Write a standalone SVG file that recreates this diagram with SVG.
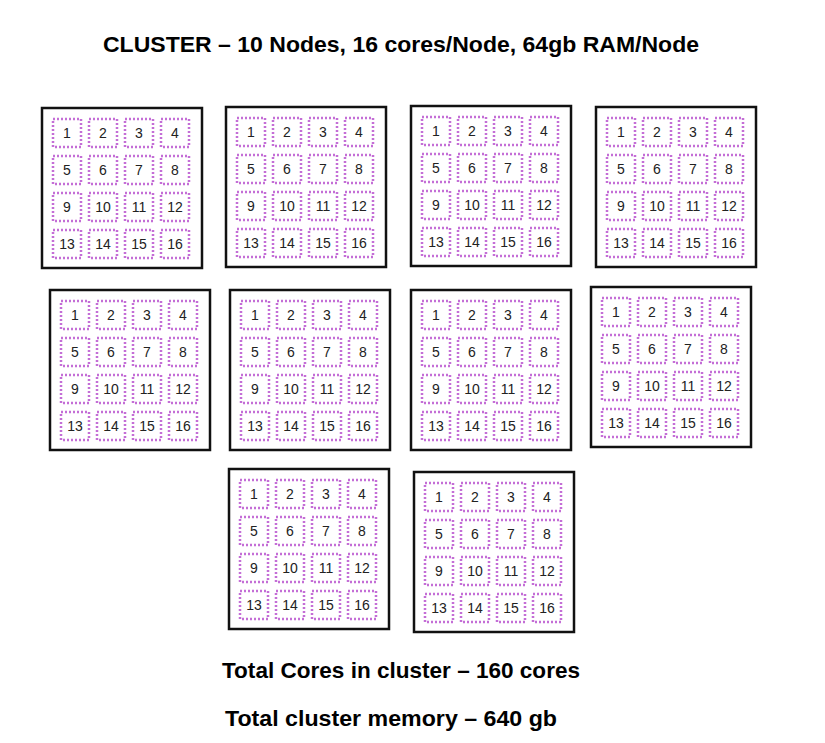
<svg xmlns="http://www.w3.org/2000/svg" xmlns:xlink="http://www.w3.org/1999/xlink" width="825" height="743" viewBox="0 0 825 743">
<style>
.box{fill:#fff;stroke:#111;stroke-width:2.5}
.cell{fill:none;stroke:#c46ed6;stroke-width:2.5;stroke-dasharray:2 2}
.n{font-family:"Liberation Sans",Arial,sans-serif;font-size:14px;fill:#222;text-anchor:middle}
.t{font-family:"Liberation Sans",Arial,sans-serif;font-size:22.5px;font-weight:bold;fill:#000;text-anchor:middle}
</style>
<defs>
<g id="node">
<rect class="box" x="0" y="0" width="160" height="160"/>
<rect class="cell" x="11" y="11" width="28" height="28"/><rect class="cell" x="47" y="11" width="28" height="28"/><rect class="cell" x="83" y="11" width="28" height="28"/><rect class="cell" x="119" y="11" width="28" height="28"/>
<rect class="cell" x="11" y="48" width="28" height="28"/><rect class="cell" x="47" y="48" width="28" height="28"/><rect class="cell" x="83" y="48" width="28" height="28"/><rect class="cell" x="119" y="48" width="28" height="28"/>
<rect class="cell" x="11" y="85" width="28" height="28"/><rect class="cell" x="47" y="85" width="28" height="28"/><rect class="cell" x="83" y="85" width="28" height="28"/><rect class="cell" x="119" y="85" width="28" height="28"/>
<rect class="cell" x="11" y="122" width="28" height="28"/><rect class="cell" x="47" y="122" width="28" height="28"/><rect class="cell" x="83" y="122" width="28" height="28"/><rect class="cell" x="119" y="122" width="28" height="28"/>
<text class="n" x="25" y="30">1</text><text class="n" x="61" y="30">2</text><text class="n" x="97" y="30">3</text><text class="n" x="133" y="30">4</text>
<text class="n" x="25" y="67">5</text><text class="n" x="61" y="67">6</text><text class="n" x="97" y="67">7</text><text class="n" x="133" y="67">8</text>
<text class="n" x="25" y="104">9</text><text class="n" x="61" y="104">10</text><text class="n" x="97" y="104">11</text><text class="n" x="133" y="104">12</text>
<text class="n" x="25" y="141">13</text><text class="n" x="61" y="141">14</text><text class="n" x="97" y="141">15</text><text class="n" x="133" y="141">16</text>
</g>
</defs>
<rect width="825" height="743" fill="#fff"/>
<text class="t" x="401" y="52" textLength="596" lengthAdjust="spacingAndGlyphs">CLUSTER – 10 Nodes, 16 cores/Node, 64gb RAM/Node</text>
<g id="node1"><use xlink:href="#node" x="42" y="108"/></g>
<g id="node2"><use xlink:href="#node" x="226" y="107"/></g>
<g id="node3"><use xlink:href="#node" x="411" y="106"/></g>
<g id="node4"><use xlink:href="#node" x="596" y="107"/></g>
<g id="node5"><use xlink:href="#node" x="50" y="290"/></g>
<g id="node6"><use xlink:href="#node" x="230" y="290"/></g>
<g id="node7"><use xlink:href="#node" x="411" y="290"/></g>
<g id="node8"><use xlink:href="#node" x="591" y="287"/></g>
<g id="node9"><use xlink:href="#node" x="229" y="469"/></g>
<g id="node10"><use xlink:href="#node" x="414" y="472"/></g>
<g id="connectors"/>
<text class="t" x="401" y="678" textLength="358" lengthAdjust="spacingAndGlyphs">Total Cores in cluster – 160 cores</text>
<text class="t" x="391" y="726" textLength="332" lengthAdjust="spacingAndGlyphs">Total cluster memory – 640 gb</text>
</svg>
